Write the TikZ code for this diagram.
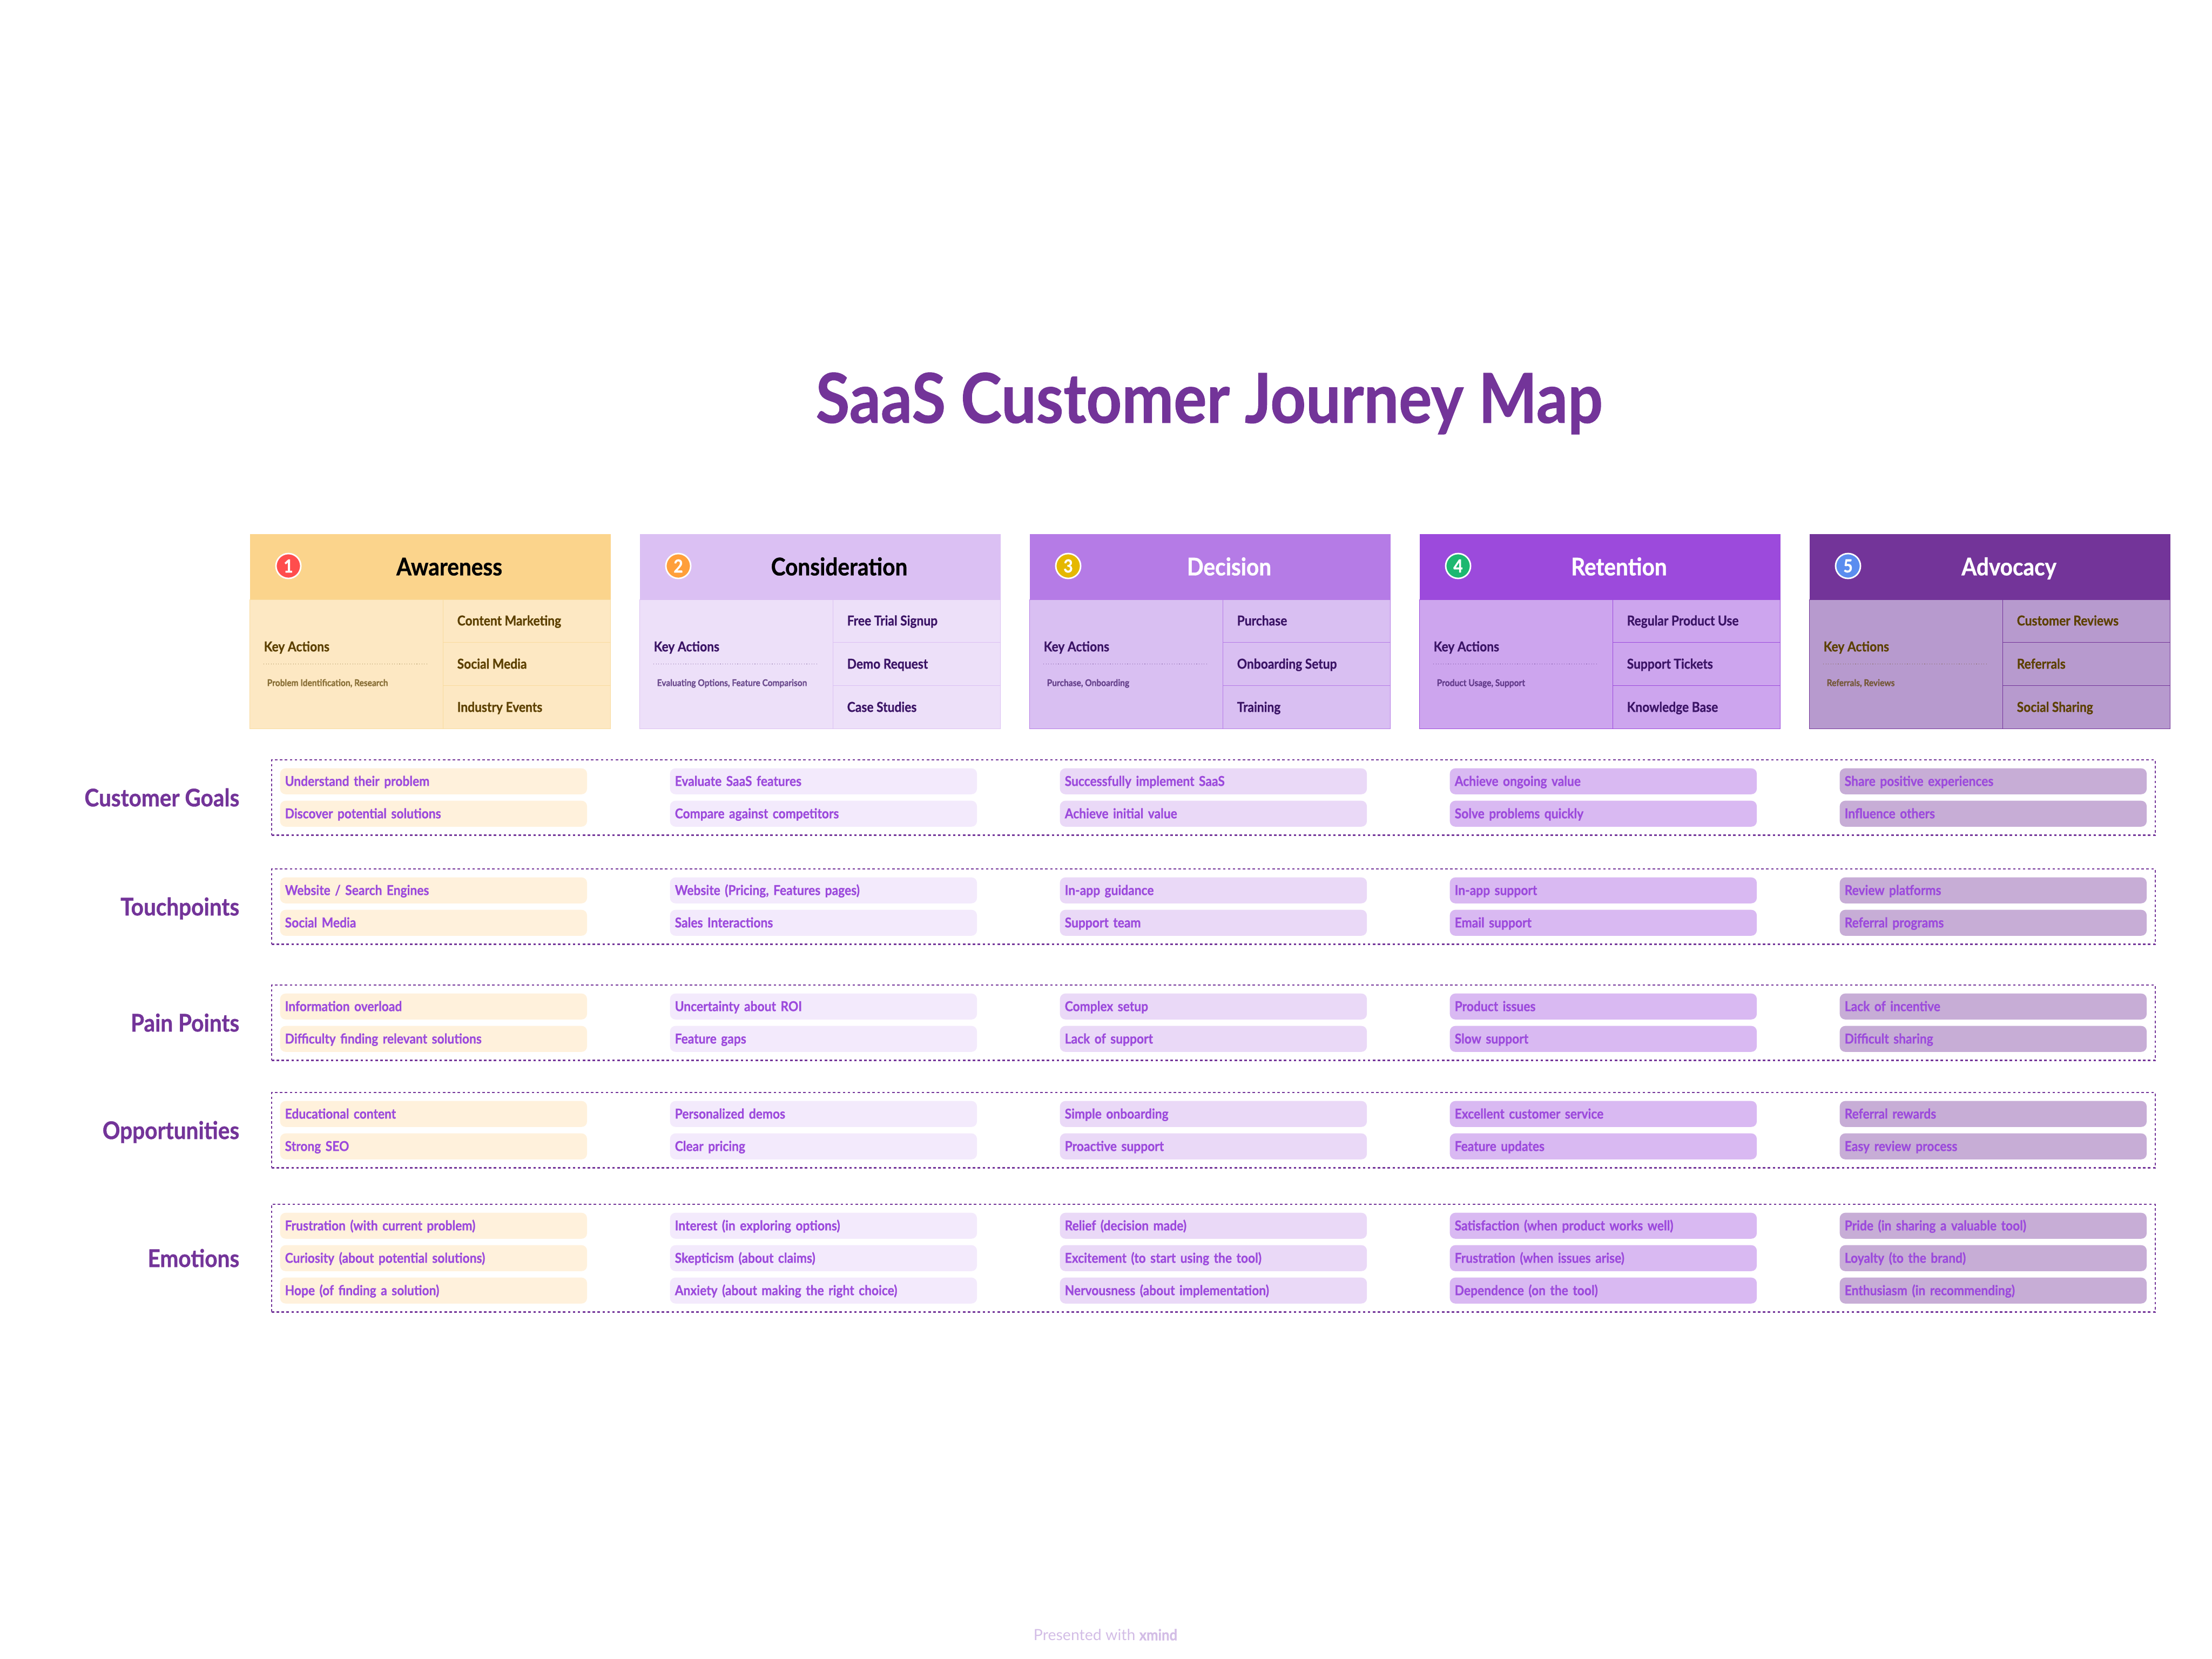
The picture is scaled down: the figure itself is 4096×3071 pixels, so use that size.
\documentclass[tikz,border=0pt]{standalone}
\usepackage{fontspec}
\setmainfont{Lato}[BoldFeatures={FakeBold=0.8,FakeStretch=0.9}]
\usetikzlibrary{positioning,fit}
\definecolor{plum}{HTML}{733499}
\definecolor{violet}{HTML}{9C4ADC}
\definecolor{brownink}{HTML}{5C4000}
\definecolor{darkink}{HTML}{3B1466}
\definecolor{headA}{HTML}{FBD48C}
\definecolor{headB}{HTML}{DBC0F3}
\definecolor{headC}{HTML}{B57BE6}
\definecolor{bodyA}{HTML}{FDE8C3}
\definecolor{bodyB}{HTML}{EDE0F9}
\definecolor{bodyC}{HTML}{D9BFF2}
\definecolor{bodyD}{HTML}{CDA5EE}
\definecolor{bodyE}{HTML}{B79ACE}
\definecolor{lineA}{HTML}{F9DB9E}
\definecolor{pillfillA}{HTML}{FFF1DC}
\definecolor{pillfillB}{HTML}{F3EAFC}
\definecolor{pillfillC}{HTML}{EAD9F7}
\definecolor{pillfillD}{HTML}{D9B9F2}
\definecolor{pillfillE}{HTML}{C7ADD6}
\definecolor{badgeA}{HTML}{FF4D4D}
\definecolor{badgeB}{HTML}{FF9F3A}
\definecolor{badgeC}{HTML}{E5B800}
\definecolor{badgeD}{HTML}{1DB870}
\definecolor{badgeE}{HTML}{5B8DEF}
\definecolor{footerink}{HTML}{D3BDE6}
\tikzset{
	head/.style = {anchor=north west, minimum width=6.68cm, minimum height=1.22cm, inner sep=0pt},
	headtext/.style = {inner sep=0pt, text height=9pt, text depth=2.5pt, yshift=-0.06cm, font=\fontsize{12.8}{14}\selectfont\bfseries},
	badge/.style = {circle, draw=white, line width=0.8pt, minimum size=0.46cm, inner sep=0pt, text=white, font=\fontsize{9.5}{10}\selectfont\bfseries},
	panel/.style = {anchor=north west, minimum width=3.58cm, minimum height=2.39cm, inner sep=0pt, line width=0.3pt},
	cell/.style = {anchor=north west, minimum width=3.1cm, minimum height=0.797cm, inner sep=0pt, line width=0.3pt},
	celltext/.style = {anchor=west, inner sep=0pt, text height=5pt, text depth=1.5pt, yshift=-0.03cm, font=\fontsize{7.2}{8}\selectfont\bfseries},
	subtext/.style = {anchor=west, inner sep=0pt, text height=3.5pt, text depth=1pt, yshift=-0.02cm, font=\fontsize{4.9}{6}\selectfont\bfseries, opacity=0.7},
	keyrule/.style = {densely dotted, line width=0.3pt, opacity=0.6},
	pill/.style = {anchor=north west, rounded corners=0.1cm, text width=5.5cm, inner xsep=0.09cm, inner ysep=0pt, minimum height=0.48cm, align=left, text height=5.7pt, text depth=0.8pt, text=violet, font=\fontsize{7.2}{8}\selectfont\bfseries},
	pillA/.style = {pill, fill=pillfillA},
	pillB/.style = {pill, fill=pillfillB},
	pillC/.style = {pill, fill=pillfillC},
	pillD/.style = {pill, fill=pillfillD},
	pillE/.style = {pill, fill=pillfillE},
	groupbox/.style = {draw=plum, line width=0.6pt, dash pattern=on 1.3pt off 1.3pt, inner sep=0.15cm},
	rowlabel/.style = {inner sep=0pt, text height=9pt, text depth=2.5pt, yshift=-0.05cm, text=plum, font=\fontsize{12.8}{14}\selectfont\bfseries}
}
\begin{document}
\begin{tikzpicture}[x=0.01cm,y=-0.01cm]
	\useasboundingbox (0,0) rectangle (4096,3071);
	\node [inner sep=0pt, text=plum, font=\fontsize{36.2}{40}\selectfont\bfseries] (title) at (2239,747) {SaaS Customer Journey Map};

	% stage 1
	\node [head, fill=headA] (head1) at (462,988) {};
	\node [panel, fill=bodyA, draw=lineA] (keys1) at (462,1110) {};
	\node [cell, fill=bodyA, draw=lineA] (cell1a) at (820,1110) {};
	\node [cell, fill=bodyA, draw=lineA] (cell1b) at (820,1189) {};
	\node [cell, fill=bodyA, draw=lineA] (cell1c) at (820,1269) {};
	\node [badge, fill=badgeA] (badge1) at (534,1048) {1};
	\node [headtext, text=black] (name1) at (832,1048) {Awareness};
	\node [celltext, text=brownink] (keyhead1) at (488,1197) {Key Actions};
	\node [subtext, text=brownink] (keysub1) at (494,1264) {Problem Identification, Research};
	\node [celltext, text=brownink] (item1a) at (846,1149) {Content Marketing};
	\node [celltext, text=brownink] (item1b) at (846,1229) {Social Media};
	\node [celltext, text=brownink] (item1c) at (846,1309) {Industry Events};
	\coordinate (rule1a) at (488,1229);
	\coordinate (rule1b) at (794,1229);
	\draw [keyrule, brownink] (rule1a) -- (rule1b);

	% stage 2
	\node [head, fill=headB] (head2) at (1184,988) {};
	\node [panel, fill=bodyB, draw=headB] (keys2) at (1184,1110) {};
	\node [cell, fill=bodyB, draw=headB] (cell2a) at (1542,1110) {};
	\node [cell, fill=bodyB, draw=headB] (cell2b) at (1542,1189) {};
	\node [cell, fill=bodyB, draw=headB] (cell2c) at (1542,1269) {};
	\node [badge, fill=badgeB] (badge2) at (1256,1048) {2};
	\node [headtext, text=black] (name2) at (1554,1048) {Consideration};
	\node [celltext, text=darkink] (keyhead2) at (1210,1197) {Key Actions};
	\node [subtext, text=darkink] (keysub2) at (1216,1264) {Evaluating Options, Feature Comparison};
	\node [celltext, text=darkink] (item2a) at (1568,1149) {Free Trial Signup};
	\node [celltext, text=darkink] (item2b) at (1568,1229) {Demo Request};
	\node [celltext, text=darkink] (item2c) at (1568,1309) {Case Studies};
	\coordinate (rule2a) at (1210,1229);
	\coordinate (rule2b) at (1516,1229);
	\draw [keyrule, darkink] (rule2a) -- (rule2b);

	% stage 3
	\node [head, fill=headC] (head3) at (1906,988) {};
	\node [panel, fill=bodyC, draw=headC] (keys3) at (1906,1110) {};
	\node [cell, fill=bodyC, draw=headC] (cell3a) at (2264,1110) {};
	\node [cell, fill=bodyC, draw=headC] (cell3b) at (2264,1189) {};
	\node [cell, fill=bodyC, draw=headC] (cell3c) at (2264,1269) {};
	\node [badge, fill=badgeC] (badge3) at (1978,1048) {3};
	\node [headtext, text=white] (name3) at (2276,1048) {Decision};
	\node [celltext, text=darkink] (keyhead3) at (1932,1197) {Key Actions};
	\node [subtext, text=darkink] (keysub3) at (1938,1264) {Purchase, Onboarding};
	\node [celltext, text=darkink] (item3a) at (2290,1149) {Purchase};
	\node [celltext, text=darkink] (item3b) at (2290,1229) {Onboarding Setup};
	\node [celltext, text=darkink] (item3c) at (2290,1309) {Training};
	\coordinate (rule3a) at (1932,1229);
	\coordinate (rule3b) at (2238,1229);
	\draw [keyrule, darkink] (rule3a) -- (rule3b);

	% stage 4
	\node [head, fill=violet] (head4) at (2628,988) {};
	\node [panel, fill=bodyD, draw=violet] (keys4) at (2628,1110) {};
	\node [cell, fill=bodyD, draw=violet] (cell4a) at (2986,1110) {};
	\node [cell, fill=bodyD, draw=violet] (cell4b) at (2986,1189) {};
	\node [cell, fill=bodyD, draw=violet] (cell4c) at (2986,1269) {};
	\node [badge, fill=badgeD] (badge4) at (2700,1048) {4};
	\node [headtext, text=white] (name4) at (2998,1048) {Retention};
	\node [celltext, text=darkink] (keyhead4) at (2654,1197) {Key Actions};
	\node [subtext, text=darkink] (keysub4) at (2660,1264) {Product Usage, Support};
	\node [celltext, text=darkink] (item4a) at (3012,1149) {Regular Product Use};
	\node [celltext, text=darkink] (item4b) at (3012,1229) {Support Tickets};
	\node [celltext, text=darkink] (item4c) at (3012,1309) {Knowledge Base};
	\coordinate (rule4a) at (2654,1229);
	\coordinate (rule4b) at (2960,1229);
	\draw [keyrule, darkink] (rule4a) -- (rule4b);

	% stage 5
	\node [head, fill=plum] (head5) at (3350,988) {};
	\node [panel, fill=bodyE, draw=plum] (keys5) at (3350,1110) {};
	\node [cell, fill=bodyE, draw=plum] (cell5a) at (3708,1110) {};
	\node [cell, fill=bodyE, draw=plum] (cell5b) at (3708,1189) {};
	\node [cell, fill=bodyE, draw=plum] (cell5c) at (3708,1269) {};
	\node [badge, fill=badgeE] (badge5) at (3422,1048) {5};
	\node [headtext, text=white] (name5) at (3720,1048) {Advocacy};
	\node [celltext, text=brownink] (keyhead5) at (3376,1197) {Key Actions};
	\node [subtext, text=brownink] (keysub5) at (3382,1264) {Referrals, Reviews};
	\node [celltext, text=brownink] (item5a) at (3734,1149) {Customer Reviews};
	\node [celltext, text=brownink] (item5b) at (3734,1229) {Referrals};
	\node [celltext, text=brownink] (item5c) at (3734,1309) {Social Sharing};
	\coordinate (rule5a) at (3376,1229);
	\coordinate (rule5b) at (3682,1229);
	\draw [keyrule, brownink] (rule5a) -- (rule5b);

	% customer goals
	\node [pillA] (goal1a) at (518,1422) {Understand their problem};
	\node [pillA] (goal1b) at (518,1482) {Discover potential solutions};
	\node [pillB] (goal2a) at (1240,1422) {Evaluate SaaS features};
	\node [pillB] (goal2b) at (1240,1482) {Compare against competitors};
	\node [pillC] (goal3a) at (1962,1422) {Successfully implement SaaS};
	\node [pillC] (goal3b) at (1962,1482) {Achieve initial value};
	\node [pillD] (goal4a) at (2684,1422) {Achieve ongoing value};
	\node [pillD] (goal4b) at (2684,1482) {Solve problems quickly};
	\node [pillE] (goal5a) at (3406,1422) {Share positive experiences};
	\node [pillE] (goal5b) at (3406,1482) {Influence others};
	\node [groupbox, fit=(goal1a)(goal5b)] (goals) {};
	\node [rowlabel, left=0.58cm of goals] (goalslabel) {Customer Goals};

	% touchpoints
	\node [pillA] (touch1a) at (518,1624) {Website / Search Engines};
	\node [pillA] (touch1b) at (518,1684) {Social Media};
	\node [pillB] (touch2a) at (1240,1624) {Website (Pricing, Features pages)};
	\node [pillB] (touch2b) at (1240,1684) {Sales Interactions};
	\node [pillC] (touch3a) at (1962,1624) {In-app guidance};
	\node [pillC] (touch3b) at (1962,1684) {Support team};
	\node [pillD] (touch4a) at (2684,1624) {In-app support};
	\node [pillD] (touch4b) at (2684,1684) {Email support};
	\node [pillE] (touch5a) at (3406,1624) {Review platforms};
	\node [pillE] (touch5b) at (3406,1684) {Referral programs};
	\node [groupbox, fit=(touch1a)(touch5b)] (touch) {};
	\node [rowlabel, left=0.58cm of touch] (touchlabel) {Touchpoints};

	% pain points
	\node [pillA] (pain1a) at (518,1839) {Information overload};
	\node [pillA] (pain1b) at (518,1899) {Difficulty finding relevant solutions};
	\node [pillB] (pain2a) at (1240,1839) {Uncertainty about ROI};
	\node [pillB] (pain2b) at (1240,1899) {Feature gaps};
	\node [pillC] (pain3a) at (1962,1839) {Complex setup};
	\node [pillC] (pain3b) at (1962,1899) {Lack of support};
	\node [pillD] (pain4a) at (2684,1839) {Product issues};
	\node [pillD] (pain4b) at (2684,1899) {Slow support};
	\node [pillE] (pain5a) at (3406,1839) {Lack of incentive};
	\node [pillE] (pain5b) at (3406,1899) {Difficult sharing};
	\node [groupbox, fit=(pain1a)(pain5b)] (pain) {};
	\node [rowlabel, left=0.58cm of pain] (painlabel) {Pain Points};

	% opportunities
	\node [pillA] (opp1a) at (518,2038) {Educational content};
	\node [pillA] (opp1b) at (518,2098) {Strong SEO};
	\node [pillB] (opp2a) at (1240,2038) {Personalized demos};
	\node [pillB] (opp2b) at (1240,2098) {Clear pricing};
	\node [pillC] (opp3a) at (1962,2038) {Simple onboarding};
	\node [pillC] (opp3b) at (1962,2098) {Proactive support};
	\node [pillD] (opp4a) at (2684,2038) {Excellent customer service};
	\node [pillD] (opp4b) at (2684,2098) {Feature updates};
	\node [pillE] (opp5a) at (3406,2038) {Referral rewards};
	\node [pillE] (opp5b) at (3406,2098) {Easy review process};
	\node [groupbox, fit=(opp1a)(opp5b)] (opp) {};
	\node [rowlabel, left=0.58cm of opp] (opplabel) {Opportunities};

	% emotions
	\node [pillA] (emo1a) at (518,2245) {Frustration (with current problem)};
	\node [pillA] (emo1b) at (518,2305) {Curiosity (about potential solutions)};
	\node [pillA] (emo1c) at (518,2365) {Hope (of finding a solution)};
	\node [pillB] (emo2a) at (1240,2245) {Interest (in exploring options)};
	\node [pillB] (emo2b) at (1240,2305) {Skepticism (about claims)};
	\node [pillB] (emo2c) at (1240,2365) {Anxiety (about making the right choice)};
	\node [pillC] (emo3a) at (1962,2245) {Relief (decision made)};
	\node [pillC] (emo3b) at (1962,2305) {Excitement (to start using the tool)};
	\node [pillC] (emo3c) at (1962,2365) {Nervousness (about implementation)};
	\node [pillD] (emo4a) at (2684,2245) {Satisfaction (when product works well)};
	\node [pillD] (emo4b) at (2684,2305) {Frustration (when issues arise)};
	\node [pillD] (emo4c) at (2684,2365) {Dependence (on the tool)};
	\node [pillE] (emo5a) at (3406,2245) {Pride (in sharing a valuable tool)};
	\node [pillE] (emo5b) at (3406,2305) {Loyalty (to the brand)};
	\node [pillE] (emo5c) at (3406,2365) {Enthusiasm (in recommending)};
	\node [groupbox, fit=(emo1a)(emo5c)] (emo) {};
	\node [rowlabel, left=0.58cm of emo] (emolabel) {Emotions};

	\node [inner sep=0pt, text=footerink, font=\fontsize{8.1}{9}\selectfont] (footer) at (2047,3027) {Presented with \textbf{xmind}};
\end{tikzpicture}
\end{document}
